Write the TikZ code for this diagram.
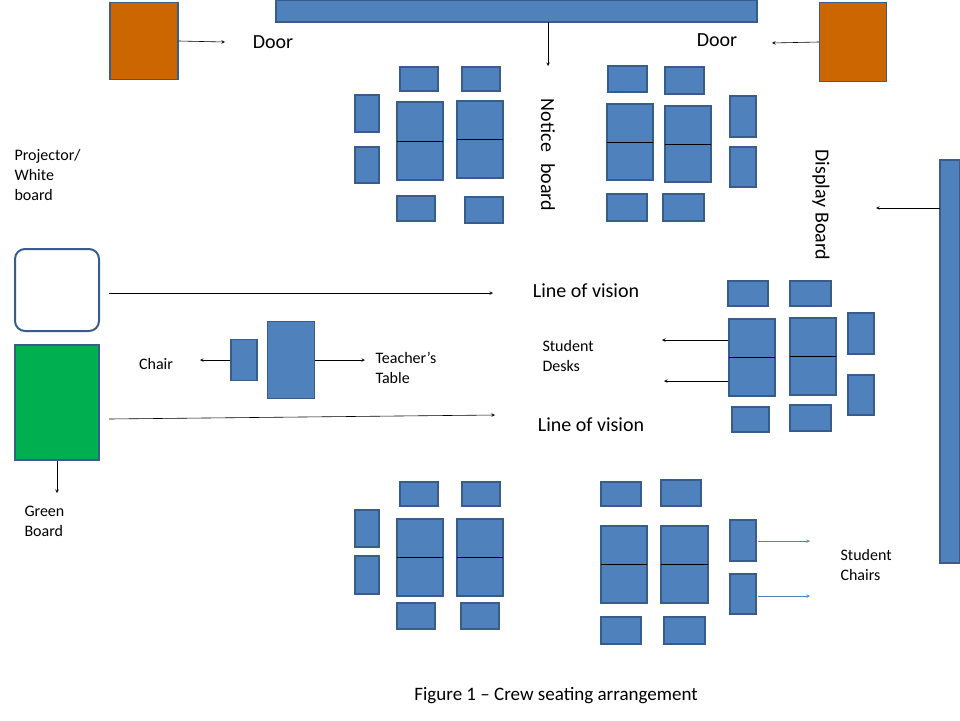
\documentclass[tikz,border=0pt]{standalone}
\usepackage{fontspec}
\setmainfont{Carlito}
\begin{document}
\begin{tikzpicture}[x=1pt,y=-1pt,
  blk/.style={fill=blue1,draw=blue2,line width=1.2pt},
  desk/.style={blk,line width=1.6pt},
  arr/.style={-stealth,line width=0.6pt},
  big/.style={font=\fontsize{20}{22}\selectfont},
  sm/.style={font=\fontsize{16}{20}\selectfont,align=left}]
\definecolor{blue1}{HTML}{4F81BD}\definecolor{blue2}{HTML}{385D8A}
\definecolor{org}{HTML}{CC6600}\definecolor{grn}{HTML}{00B050}
\useasboundingbox (0,0) rectangle (960,720);
\newcommand\dsk[4]{\draw[desk] (#1,#2) rectangle (#3,#4); \draw (#1,{(#2+#4)/2}) -- (#3,{(#2+#4)/2});}
\newcommand\chr[4]{\draw[blk] (#1,#2) rectangle (#3,#4);}
% boards
\draw[blk] (276,0) rectangle (757,22);
\coordinate (nb) at (548,22); \coordinate (nbe) at (548,66);
\draw[arr] (nb) -- (nbe);
\node[big,rotate=-90] at (548,155) {Notice\,\, board};
\draw[blk] (940,160) rectangle (960,563);
\coordinate (db) at (940,208); \coordinate (dbe) at (876,208);
\draw[arr] (db) -- (dbe);
\node[big,rotate=-90] at (821,205) {Display Board};
% doors
\node[draw=blue2,fill=org,line width=1.2pt,minimum width=68pt,minimum height=77pt,inner sep=0] (d1) at (144,41) {};
\node[big] (t1) at (273,42) {Door};
\draw[arr] (d1.east) -- (225,42);
\node[draw=blue2,fill=org,line width=1.2pt,minimum width=67pt,minimum height=79pt,inner sep=0] (d2) at (853,42) {};
\node[big] (t2) at (717,40) {Door};
\draw[arr] (d2.west) -- (772,43);
% projector / green
\node[draw=blue2,fill=white,line width=2pt,rounded corners=10pt,minimum width=84pt,minimum height=82pt] (pw) at (57,290) {};
\node[sm,anchor=north west] at (11,146) {Projector/\\White\\board};
\node[draw=blue2,fill=grn,line width=2pt,minimum width=84pt,minimum height=115pt,inner sep=0] (gb) at (57,402) {};
\coordinate (gbe) at (57,493);
\draw[arr] (gb.south) -- (gbe);
\node[sm,anchor=north west] at (21,503) {Green\\Board};
% teacher
\node[blk,minimum width=26pt,minimum height=41pt,inner sep=0] (ch) at (244,360) {};
\node[desk,minimum width=47pt,minimum height=77pt,inner sep=0] (tt) at (291,360) {};
\draw[arr] (ch.west) -- (200,360);
\draw[arr] (tt.east) -- (365,360);
\node[sm] at (156,364) {Chair};
\node[sm,anchor=north west] at (372,349) {Teacher’s\\Table};
% lines of vision
\draw[arr] (109,293) -- (493,293);
\draw[arr] (109,419) -- (495,415);
\node[big] at (586,291) {Line of vision};
\node[big] at (591,425) {Line of vision};
% group top-left
\chr{400}{67}{438}{91}\chr{462}{67}{500}{91}
\chr{355}{95}{379}{132}\chr{355}{147}{379}{183}
\dsk{397}{102}{443}{180}\dsk{457}{101}{503}{178}
\chr{397}{196}{435}{221}\chr{465}{197}{503}{223}
% group top-right
\chr{608}{66}{647}{92}\chr{665}{67}{704}{94}
\dsk{607}{104}{653}{180}\dsk{665}{106}{711}{182}
\chr{730}{96}{756}{137}\chr{730}{147}{756}{187}
\chr{607}{194}{647}{221}\chr{663}{194}{704}{221}
% group middle-right
\chr{728}{281}{768}{306}\chr{790}{281}{831}{306}
\dsk{729}{319}{775}{396}\dsk{790}{318}{836}{395}
\chr{848}{313}{874}{354}\chr{848}{375}{874}{415}
\chr{732}{407}{769}{432}\chr{790}{405}{831}{431}
\draw[arr] (728,340) -- (662,340);
\draw[arr] (728,381) -- (664,381);
\node[sm,anchor=north west] at (539,337) {Student\\Desks};
% group bottom-left
\chr{400}{482}{438}{506}\chr{462}{482}{500}{506}
\chr{355}{510}{379}{547}\chr{355}{556}{379}{594}
\dsk{397}{519}{443}{596}\dsk{457}{519}{503}{596}
\chr{397}{603}{435}{629}\chr{461}{603}{499}{629}
% group bottom-right
\chr{601}{482}{641}{506}\chr{661}{480}{701}{506}
\dsk{601}{526}{647}{603}\dsk{661}{526}{708}{603}
\chr{730}{520}{756}{561}\chr{730}{574}{756}{614}
\chr{601}{617}{641}{644}\chr{664}{617}{705}{644}
\draw[arr,blue1] (758,541) -- (810,541);
\draw[arr,blue1] (758,596) -- (810,596);
\node[sm,anchor=north west] at (837,546) {Student\\Chairs};
\node[font=\fontsize{19}{22}\selectfont] at (556,696) {Figure 1 – Crew seating arrangement};
\end{tikzpicture}
\end{document}
